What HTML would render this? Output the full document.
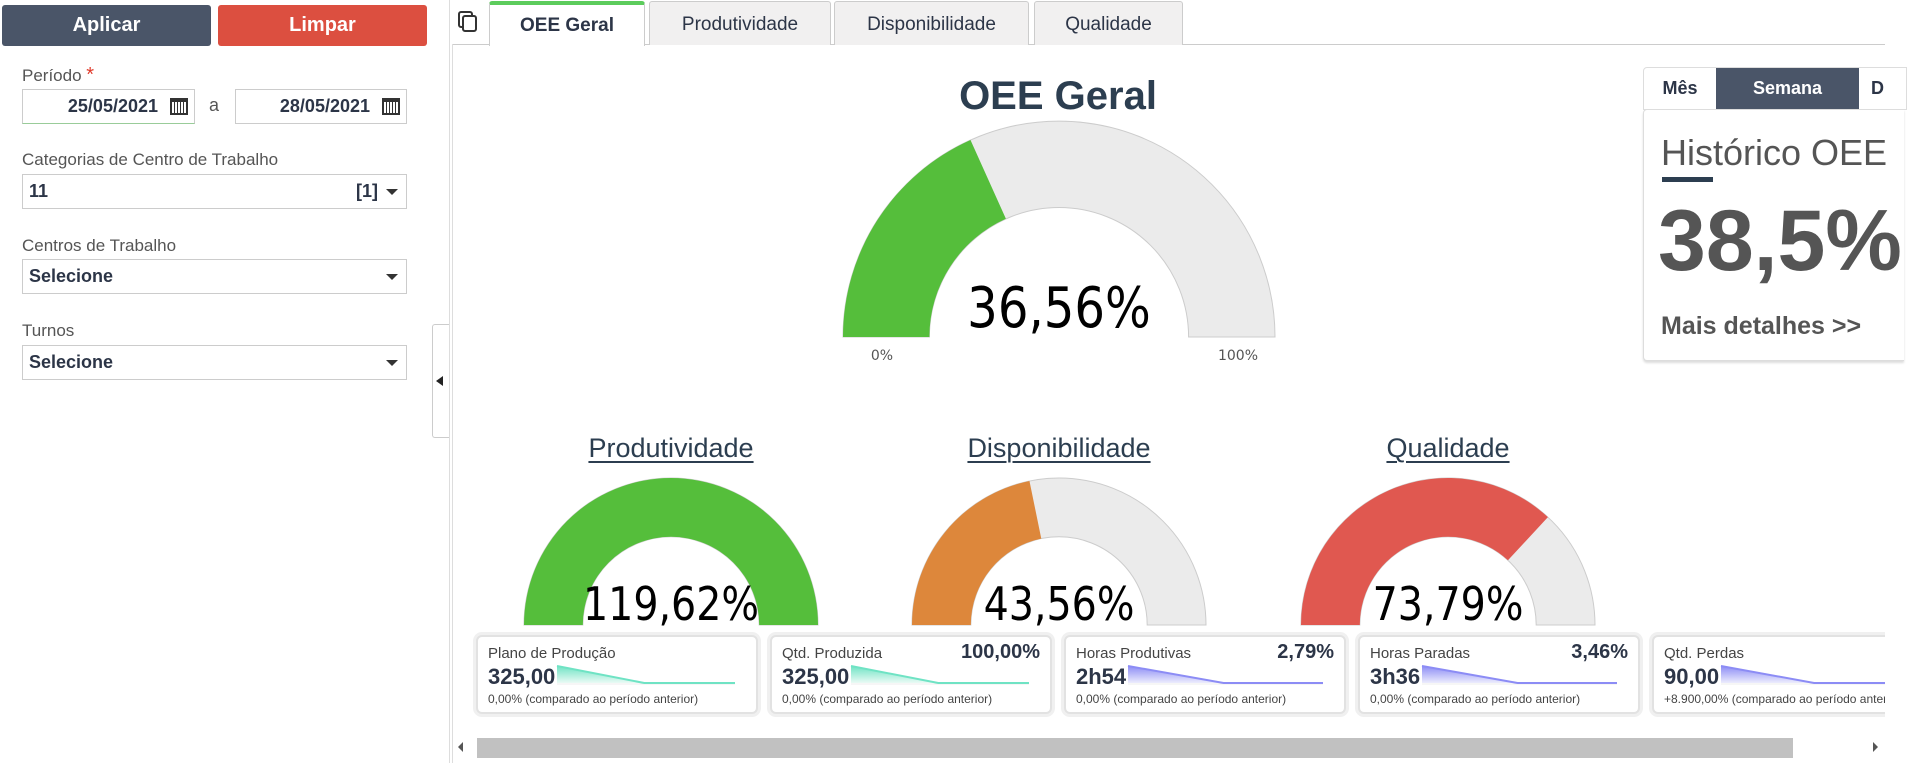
<!DOCTYPE html>
<html><head><meta charset="utf-8">
<style>
*{box-sizing:border-box;margin:0;padding:0}
body{width:1907px;height:763px;overflow:hidden;background:#fff;font-family:"Liberation Sans",Arial,sans-serif;color:#333;position:relative}
.abs{position:absolute}
.btn{position:absolute;top:5px;height:41px;border-radius:3px;color:#fff;font-weight:bold;font-size:20px;text-align:center;line-height:41px}
.lbl{position:absolute;left:22px;font-size:17px;color:#555}
.inp{position:absolute;height:35px;border:1px solid #ccc;background:#fff;font-size:18px;font-weight:bold;color:#2c3547;line-height:33px}
.caret{position:absolute;right:8px;top:14px;width:0;height:0;border-left:6px solid transparent;border-right:6px solid transparent;border-top:6px solid #333}
.cal{position:absolute;right:6px;top:8px;width:18px;height:17px;border:2px solid #333;border-top-width:4px;background:repeating-linear-gradient(90deg,#fff 0 2px,#333 2px 3px)}
.tab{position:absolute;top:1px;height:44px;border:1px solid #ccc;border-bottom:none;background:#f1f0f0;font-size:19px;color:#2c3547;text-align:center;line-height:46px;border-radius:3px 3px 0 0}
.gtitle{position:absolute;font-size:27px;color:#2c3e50;text-decoration:underline;text-decoration-thickness:2px;text-underline-offset:4px;transform:translateX(-50%);white-space:nowrap}
.card{position:absolute;top:635px;width:282px;height:79px;border:2px solid #e2e2e2;border-radius:6px;background:#fff;box-shadow:0 0 0 3px #f0f0f0}
.card .t{position:absolute;left:10px;top:8px;font-size:15px;color:#444}
.card .p{position:absolute;right:10px;top:4px;font-size:20px;font-weight:bold;color:#2c3547}
.card .v{position:absolute;left:10px;top:27px;font-size:22px;font-weight:bold;color:#2c3547}
.card .s{position:absolute;left:10px;top:55px;font-size:12px;color:#444;white-space:nowrap}
.card svg{position:absolute;left:0;top:0}
</style></head><body>
<div class="btn" style="left:2px;width:209px;background:#4a5568">Aplicar</div>
<div class="btn" style="left:218px;width:209px;background:#dc4f40">Limpar</div>

<div class="lbl" style="top:64px">Período <span style="color:#e03b2c;font-size:20px">*</span></div>
<div class="inp" style="left:22px;top:89px;width:173px;text-align:right;padding-right:36px;border-bottom-color:#9c9">25/05/2021<span class="cal"></span></div>
<div class="abs" style="left:209px;top:95px;font-size:18px;color:#555">a</div>
<div class="inp" style="left:235px;top:89px;width:172px;text-align:right;padding-right:36px">28/05/2021<span class="cal"></span></div>

<div class="lbl" style="top:150px">Categorias de Centro de Trabalho</div>
<div class="inp" style="left:22px;top:174px;width:385px;padding-left:6px">11<span style="position:absolute;right:28px">[1]</span><span class="caret"></span></div>

<div class="lbl" style="top:236px">Centros de Trabalho</div>
<div class="inp" style="left:22px;top:259px;width:385px;padding-left:6px">Selecione<span class="caret"></span></div>

<div class="lbl" style="top:321px">Turnos</div>
<div class="inp" style="left:22px;top:345px;width:385px;padding-left:6px">Selecione<span class="caret"></span></div>

<div class="abs" style="left:432px;top:324px;width:17px;height:114px;border:1px solid #ccc;border-right:none;border-radius:3px 0 0 3px;background:#fff"><div style="position:absolute;left:3px;top:51px;border-top:5px solid transparent;border-bottom:5px solid transparent;border-right:7px solid #222"></div></div>
<div class="abs" style="left:449px;top:0;width:1px;height:763px;background:#ddd"></div>

<div class="abs" style="left:458px;top:11px;width:15px;height:17px;border:2px solid #333;border-radius:3px"></div>
<div class="abs" style="left:462px;top:15px;width:15px;height:17px;border:2px solid #333;border-radius:3px;background:#fff"></div>

<div class="abs" style="left:452px;top:44px;width:1433px;height:1px;background:#ccc"></div>
<div class="abs" style="left:452px;top:44px;width:1px;height:719px;background:#ddd"></div>
<div class="tab" style="left:489px;width:156px;background:#fff;border-top:4px solid #5ccc5c;height:45px;font-weight:bold;line-height:42px">OEE Geral</div>
<div class="tab" style="left:649px;width:182px">Produtividade</div>
<div class="tab" style="left:834px;width:195px">Disponibilidade</div>
<div class="tab" style="left:1034px;width:149px">Qualidade</div>

<div class="abs" style="left:1058px;top:74px;transform:translateX(-50%);font-size:40px;font-weight:bold;color:#2c3e50;white-space:nowrap">OEE Geral</div>

<svg id="g" class="abs" style="left:0;top:0" width="1907" height="763"></svg>

<div class="gtitle" style="left:671px;top:433px">Produtividade</div>
<div class="gtitle" style="left:1059px;top:433px">Disponibilidade</div>
<div class="gtitle" style="left:1448px;top:433px">Qualidade</div>

<div class="abs" style="left:1643px;top:67px;width:264px;height:43px;border:1px solid #ddd;border-radius:4px 0 0 0;background:#fff">
<div class="abs" style="left:0;top:0;width:72px;height:41px;text-align:center;line-height:41px;font-weight:bold;font-size:18px;color:#2c3547">Mês</div>
<div class="abs" style="left:72px;top:0;width:143px;height:41px;background:#4a5568;color:#fff;text-align:center;line-height:41px;font-weight:bold;font-size:18px">Semana</div>
<div class="abs" style="left:227px;top:0;height:41px;line-height:41px;font-weight:bold;font-size:18px;color:#2c3547">D</div>
</div>
<div class="abs" style="left:1643px;top:109px;width:261px;height:252px;border:1px solid #ddd;border-right:none;border-radius:4px 0 0 4px;box-shadow:0 2px 2px #ddd;background:#fff;overflow:hidden">
<div class="abs" style="left:17px;top:22px;font-size:36px;color:#555;white-space:nowrap">Histórico OEE</div>
<div class="abs" style="left:18px;top:67px;width:51px;height:5px;background:#2c3e50"></div>
<div class="abs" style="left:14px;top:82px;font-size:86px;font-weight:bold;color:#555;white-space:nowrap">38,5%</div>
<div class="abs" style="left:17px;top:202px;font-size:25px;font-weight:bold;color:#555;white-space:nowrap">Mais detalhes &gt;&gt;</div>
</div>

<div id="cards"></div>
<div class="abs" style="left:1885px;top:620px;width:22px;height:143px;background:#fff"></div>

<div class="abs" style="left:458px;top:742px;border-top:5px solid transparent;border-bottom:5px solid transparent;border-right:5px solid #555"></div>
<div class="abs" style="left:477px;top:738px;width:1316px;height:20px;background:#c1c1c1"></div>
<div class="abs" style="left:1873px;top:742px;border-top:5px solid transparent;border-bottom:5px solid transparent;border-left:5px solid #555"></div>

<script>
const gaugeNames=["oee-geral","produtividade","disponibilidade","qualidade"];
const gaugeValues=[36.56,119.62,43.56,73.79];
const gaugeLabels=["36,56%","119,62%","43,56%","73,79%"];
const gaugeColors=["#55be3b","#55be3b","#dd873b","#e05850"];
const cardTitles=["Plano de Produção","Qtd. Produzida","Horas Produtivas","Horas Paradas","Qtd. Perdas"];
const cardValues=["325,00","325,00","2h54","3h36","90,00"];
const cardPercents=["","100,00%","2,79%","3,46%","27,"];
const cardCompare=["0,00%","0,00%","0,00%","0,00%","+8.900,00%"];
const sparkA=[1,0,0,0];
const sparkB=[1,0,0,0];
const sparkC=[1,0,0,0];
const sparkD=[1,0,0,0];
const sparkE=[1,0,0,0];
const sparkSeries=[sparkA,sparkB,sparkC,sparkD,sparkE];

const NS="http://www.w3.org/2000/svg";
const svg=document.getElementById('g');
const geo=[{cx:1059,cy:337,r:216,fs:56,ty:327},{cx:671,cy:625,r:147,fs:46,ty:620},{cx:1059,cy:625,r:147,fs:46,ty:620},{cx:1448,cy:625,r:147,fs:46,ty:620}];
function pt(cx,cy,r,f){const a=Math.PI*(1-f);return [cx+r*Math.cos(a),cy-r*Math.sin(a)];}
function arc(cx,cy,R,ri,f0,f1){
  const [x0,y0]=pt(cx,cy,R,f0),[x1,y1]=pt(cx,cy,R,f1),[x2,y2]=pt(cx,cy,ri,f1),[x3,y3]=pt(cx,cy,ri,f0);
  return `M${x0},${y0}A${R},${R} 0 0 1 ${x1},${y1}L${x2},${y2}A${ri},${ri} 0 0 0 ${x3},${y3}Z`;
}
gaugeValues.forEach((v,i)=>{
  const g=geo[i],ri=g.r*0.6,f=Math.min(v/100,1);
  const bg=document.createElementNS(NS,'path');
  bg.setAttribute('d',arc(g.cx,g.cy,g.r,ri,0,1));
  bg.setAttribute('fill','#ebebeb');bg.setAttribute('stroke','#ccc');
  
  
  svg.appendChild(bg);
  const fg=document.createElementNS(NS,'path');
  fg.setAttribute('d',arc(g.cx,g.cy,g.r,ri,0,f));
  fg.setAttribute('fill',gaugeColors[i]);
  
  
  svg.appendChild(fg);
  const t=document.createElementNS(NS,'text');
  t.setAttribute('x',g.cx);t.setAttribute('y',g.ty);t.setAttribute('text-anchor','middle');
  t.setAttribute('font-size',g.fs);t.setAttribute('font-family','"DejaVu Sans",sans-serif');
  t.setAttribute('transform',`translate(${g.cx},0) scale(0.86,1) translate(${-g.cx},0)`);
  t.setAttribute('fill','#000');t.textContent=gaugeLabels[i];
  
  
  svg.appendChild(t);
});
[["0%",882],["100%",1238]].forEach(([s,x],k)=>{
  const t=document.createElementNS(NS,'text');
  t.setAttribute('x',x);t.setAttribute('y',360);t.setAttribute('text-anchor','middle');
  t.setAttribute('font-size',14);t.setAttribute('fill','#555');t.setAttribute('font-family','"DejaVu Sans",sans-serif');
  t.textContent=s;
  
  
  svg.appendChild(t);
});

const cards=document.getElementById('cards');
const cardColors=[["#6fe3c4","#eafaf5"],["#6fe3c4","#eafaf5"],["#8c8cf5","#ececfd"],["#8c8cf5","#ececfd"],["#8c8cf5","#ececfd"]];
cardTitles.forEach((title,i)=>{
  const c=document.createElement('div');c.className='card';c.style.left=(476+i*294)+'px';
  
  
  c.innerHTML=`<div class="t">${title}</div><div class="p">${cardPercents[i]}</div><div class="v">${cardValues[i]}</div><div class="s">${cardCompare[i]} (comparado ao período anterior)</div>`;
  cards.appendChild(c);
  const vw=c.querySelector('.v').offsetWidth;
  const x0=10+vw+2,x1=257,yt=29,yb=46,d=sparkSeries[i];
  const xs=d.map((_,k)=>k===0?x0:x0+(x1-x0)*(0.49+0.51*(k-1)/(d.length-2)));
  const ys=d.map(v=>yb-(yb-yt)*v);
  const line=xs.map((x,k)=>`${x},${ys[k]}`).join(' ');
  const s=document.createElementNS(NS,'svg');
  s.setAttribute('width','282');s.setAttribute('height','80');
  
  
  s.innerHTML=`<defs><linearGradient id="gr${i}" x1="0" y1="0" x2="0" y2="1"><stop offset="0" stop-color="${cardColors[i][0]}"/><stop offset="1" stop-color="${cardColors[i][1]}"/></linearGradient></defs><line x1="${x0}" y1="${yb+1}" x2="${x1}" y2="${yb+1}" stroke="#eee"/><polygon points="${line} ${x1},${yb} ${x0},${yb}" fill="url(#gr${i})"/><polyline points="${line}" fill="none" stroke="${cardColors[i][0]}" stroke-width="2"/>`;
  c.insertBefore(s,c.firstChild);
});
</script>
</body></html>
